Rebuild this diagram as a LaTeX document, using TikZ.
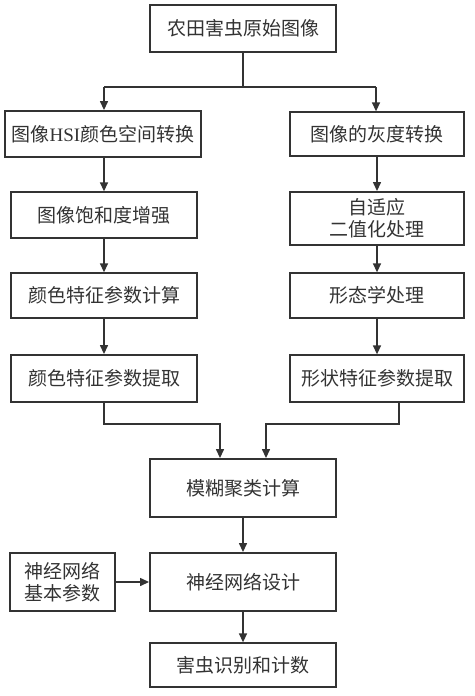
\documentclass[tikz,border=0pt]{standalone}
\usepackage{fontspec}
\setmainfont{Liberation Serif}
\newfontfamily\cjk{Noto Sans CJK SC}
\usetikzlibrary{arrows.meta}
\definecolor{ink}{HTML}{333333}
\tikzset{
  box/.style={draw=ink, line width=1.3pt, text=ink, inner sep=0pt, align=center,
    font=\cjk\fontsize{19}{24}\selectfont},
  thick box/.style={box, line width=1.9pt},
  conn/.style={draw=ink, line width=1.4pt, -{Triangle[length=9pt,width=8pt]}},
  plain/.style={draw=ink, line width=1.4pt}
}
\begin{document}
\begin{tikzpicture}[x=1pt,y=-1pt]
\useasboundingbox (0,0) rectangle (474,696);
\node[thick box, minimum width=186pt, minimum height=47pt] (top) at (243,28.5) {农田害虫原始图像};
\node[thick box, minimum width=196pt, minimum height=46pt] (l1) at (103,134) {图像{\fontspec{Liberation Serif}HSI}颜色空间转换};
\node[box, minimum width=174pt, minimum height=44pt] (r1) at (377,134) {图像的灰度转换};
\node[box, minimum width=186pt, minimum height=46pt] (l2) at (104,215) {图像饱和度增强};
\node[thick box, minimum width=174pt, minimum height=53pt] (r2) at (377,218.5) {自适应\\[-2pt]二值化处理};
\node[box, minimum width=186pt, minimum height=45pt] (l3) at (104,295.5) {颜色特征参数计算};
\node[box, minimum width=174pt, minimum height=45pt] (r3) at (377,295.5) {形态学处理};
\node[thick box, minimum width=186pt, minimum height=47pt] (l4) at (104,378.5) {颜色特征参数提取};
\node[box, minimum width=174pt, minimum height=47pt] (r4) at (377,378.5) {形状特征参数提取};
\node[thick box, minimum width=186pt, minimum height=58pt] (fz) at (243,488) {模糊聚类计算};
\node[thick box, minimum width=186pt, minimum height=58pt] (nn) at (243,582) {神经网络设计};
\node[box, minimum width=105pt, minimum height=58pt] (pp) at (62.5,582) {神经网络\\[-2pt]基本参数};
\node[box, minimum width=186pt, minimum height=44pt] (fin) at (243,665) {害虫识别和计数};

\coordinate (sp) at (243,87);
\coordinate (spl) at (104,87);
\coordinate (spr) at (376,87);
\draw[plain] (top.south) -- (sp);
\draw[plain] (spl) -- (spr);
\draw[conn] (spl) -- (spl |- l1.north);
\draw[conn] (spr) -- (spr |- r1.north);
\draw[conn] (l1.south -| l2.north) -- (l2.north);
\draw[conn] (r1.south) -- (r2.north);
\draw[conn] (l2.south) -- (l3.north);
\draw[conn] (r2.south) -- (r3.north);
\draw[conn] (l3.south) -- (l4.north);
\draw[conn] (r3.south) -- (r4.north);
\coordinate (ml) at (104,424);
\coordinate (mr) at (399,424);
\coordinate (fl) at (220,424);
\coordinate (fr) at (266,424);
\draw[conn] (l4.south -| ml) -- (ml) -- (fl) -- (fl |- fz.north);
\draw[conn] (r4.south -| mr) -- (mr) -- (fr) -- (fr |- fz.north);
\draw[conn] (fz.south) -- (nn.north);
\draw[conn] (pp.east) -- (nn.west);
\draw[conn] (nn.south) -- (fin.north);
\end{tikzpicture}
\end{document}
